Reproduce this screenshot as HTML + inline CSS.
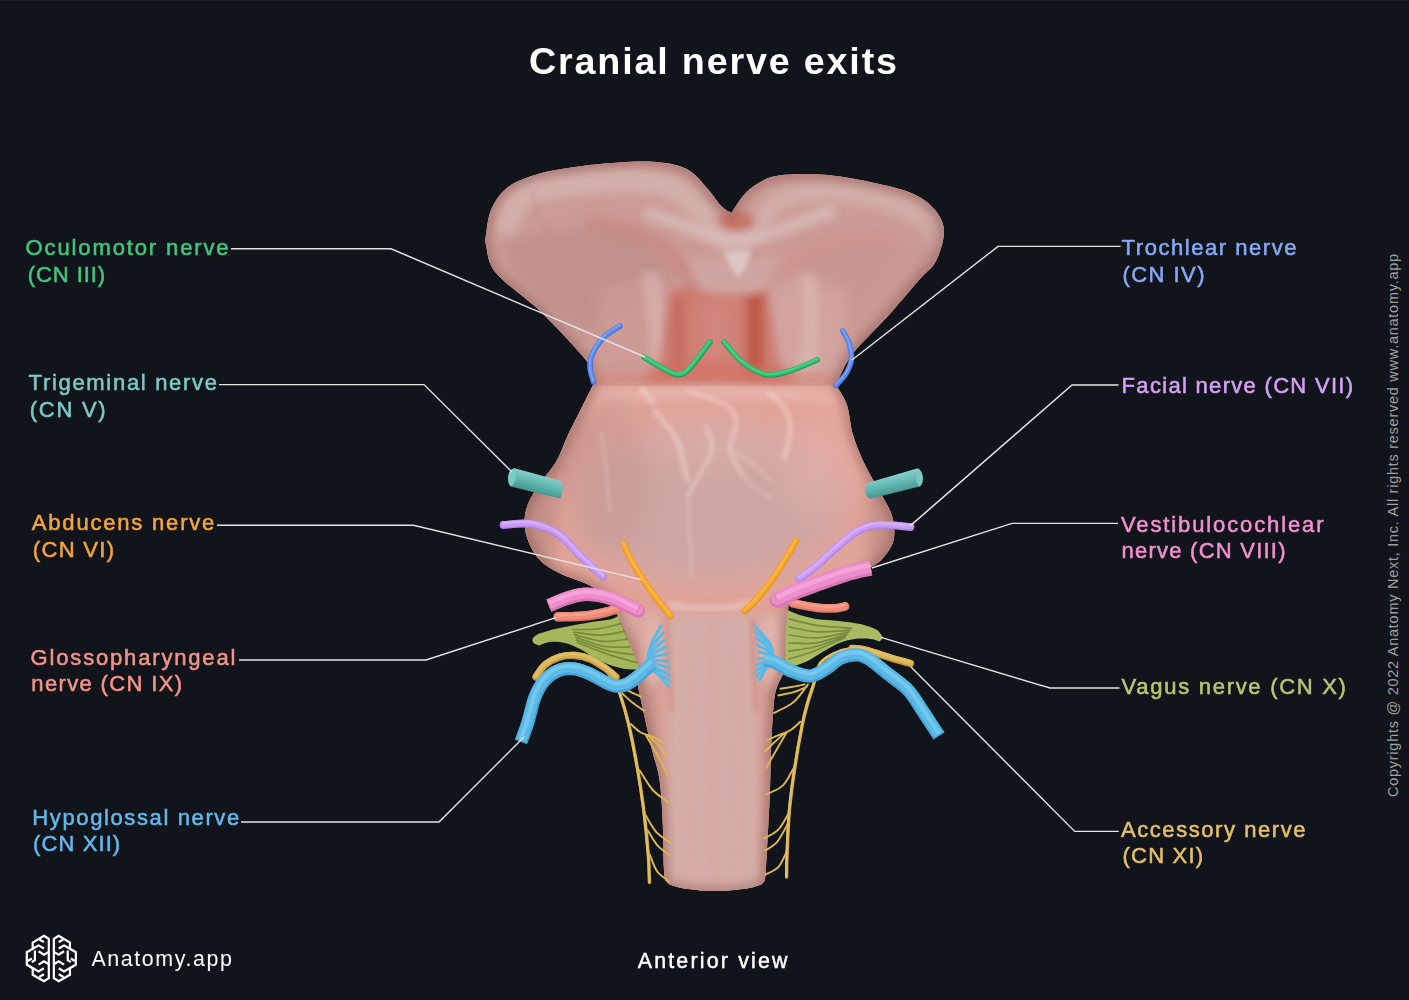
<!DOCTYPE html>
<html lang="en">
<head>
<meta charset="utf-8">
<title>Cranial nerve exits</title>
<style>
html,body{margin:0;padding:0;background:#11141a;}
body{width:1409px;height:1000px;overflow:hidden;font-family:"Liberation Sans",sans-serif;}
svg{display:block;position:absolute;left:0;top:0;}
text{font-family:"Liberation Sans",sans-serif;}
.lbl{font-size:22px;stroke-width:0.55px;paint-order:stroke;}
.ln{fill:none;stroke:#e4e4e4;stroke-width:1.4;}
</style>
</head>
<body>
<svg width="1409" height="1000" viewBox="0 0 1409 1000">
<defs>
  <clipPath id="bodyclip"><path d="M731.5,213.0 C733.4,210.2 738.8,200.8 743.0,196.0 C747.2,191.2 751.0,187.4 757.0,184.0 C763.0,180.6 767.7,177.0 779.0,175.5 C790.3,174.0 808.5,173.4 825.0,174.8 C841.5,176.2 863.2,180.5 878.0,183.7 C892.8,186.9 904.1,189.6 913.6,194.0 C923.1,198.4 929.9,203.8 935.0,210.0 C940.1,216.2 943.8,222.5 944.0,231.0 C944.2,239.5 940.2,252.8 936.0,261.0 C931.8,269.2 927.0,270.8 919.0,280.0 C911.0,289.2 898.8,304.0 888.0,316.0 C877.2,328.0 862.0,342.0 854.0,352.0 C846.0,362.0 842.9,370.3 840.0,376.0 C837.1,381.7 837.2,384.3 836.6,386.0 C838.3,389.2 844.3,396.8 847.0,405.0 C849.7,413.2 850.0,425.0 853.0,435.0 C856.0,445.0 860.5,455.5 865.0,465.0 C869.5,474.5 875.5,483.5 880.0,492.0 C884.5,500.5 889.7,508.0 892.0,516.0 C894.3,524.0 895.1,533.0 893.6,540.0 C892.1,547.0 886.8,553.5 883.0,558.0 C879.2,562.5 877.3,563.3 871.0,567.0 C864.7,570.7 854.3,575.8 845.0,580.0 C835.7,584.2 823.8,588.7 815.0,592.0 C806.2,595.3 796.5,596.7 792.0,600.0 C787.5,603.3 788.8,605.3 788.0,612.0 C787.2,618.7 787.3,631.0 787.0,640.0 C786.7,649.0 787.8,657.7 786.0,666.0 C784.2,674.3 778.2,682.0 776.0,690.0 C773.8,698.0 773.8,704.0 773.0,714.0 C772.2,724.0 771.5,737.3 771.0,750.0 C770.5,762.7 770.4,777.8 770.0,790.0 C769.6,802.2 769.1,810.2 768.4,823.0 C767.7,835.8 766.6,857.5 766.0,867.0 C765.4,876.5 765.2,877.8 765.0,880.0 C764.2,880.8 763.7,883.5 760.0,885.0 C756.3,886.5 750.6,888.0 743.0,889.0 C735.4,890.0 723.7,891.0 714.5,891.0 C705.3,891.0 695.2,890.0 688.0,889.0 C680.8,888.0 674.8,886.5 671.0,885.0 C667.2,883.5 666.0,880.8 665.0,880.0 C664.8,877.8 664.2,876.5 663.8,867.0 C663.4,857.5 663.4,837.7 662.7,823.0 C662.0,808.3 661.2,791.2 659.4,779.0 C657.6,766.8 654.6,760.8 652.0,750.0 C649.4,739.2 646.3,724.7 644.0,714.0 C641.7,703.3 639.3,693.3 638.0,686.0 C636.7,678.7 637.7,677.7 636.0,670.0 C634.3,662.3 631.0,649.0 628.0,640.0 C625.0,631.0 621.0,622.7 618.0,616.0 C615.0,609.3 614.8,605.2 610.0,600.0 C605.2,594.8 597.5,589.5 589.0,585.0 C580.5,580.5 567.5,577.5 559.0,573.0 C550.5,568.5 543.5,564.5 538.0,558.0 C532.5,551.5 528.0,542.0 526.0,534.0 C524.0,526.0 524.0,518.0 526.0,510.0 C528.0,502.0 533.0,494.0 538.0,486.0 C543.0,478.0 551.0,470.5 556.0,462.0 C561.0,453.5 563.5,444.5 568.0,435.0 C572.5,425.5 578.8,413.5 583.0,405.0 C587.2,396.5 591.8,387.5 593.5,384.0 C592.9,382.0 591.4,376.2 590.0,372.0 C588.6,367.8 593.0,368.8 585.0,359.0 C577.0,349.2 556.8,327.3 542.0,313.0 C527.2,298.7 505.3,284.3 496.0,273.0 C486.7,261.7 487.7,251.3 486.0,245.0 C484.3,238.7 485.2,240.8 486.0,235.0 C486.8,229.2 487.8,217.7 491.0,210.0 C494.2,202.3 499.0,194.6 505.5,189.0 C512.0,183.4 521.1,179.8 530.0,176.6 C538.9,173.3 547.0,171.6 558.7,169.5 C570.4,167.4 586.5,165.3 600.0,164.0 C613.5,162.7 628.5,161.5 640.0,161.4 C651.5,161.3 660.4,161.9 668.7,163.5 C677.0,165.1 683.5,166.8 690.0,171.0 C696.5,175.2 702.5,183.0 707.8,189.0 C713.1,195.0 718.0,202.8 722.0,206.8 C726.0,210.8 729.9,212.0 731.5,213.0 Z"/></clipPath>
  <filter id="b4" filterUnits="userSpaceOnUse" x="400" y="100" width="620" height="850"><feGaussianBlur stdDeviation="4"/></filter>
  <filter id="b8" filterUnits="userSpaceOnUse" x="400" y="100" width="620" height="850"><feGaussianBlur stdDeviation="8"/></filter>
  <filter id="b14" filterUnits="userSpaceOnUse" x="400" y="100" width="620" height="850"><feGaussianBlur stdDeviation="14"/></filter>
  <filter id="b2" filterUnits="userSpaceOnUse" x="400" y="100" width="620" height="850"><feGaussianBlur stdDeviation="2"/></filter>
</defs>
<rect width="1409" height="1000" fill="#11141a"/>
<rect width="1409" height="1.2" fill="#1d2026"/>

<!-- BRAINSTEM BODY -->
<g id="body">
  <path d="M731.5,213.0 C733.4,210.2 738.8,200.8 743.0,196.0 C747.2,191.2 751.0,187.4 757.0,184.0 C763.0,180.6 767.7,177.0 779.0,175.5 C790.3,174.0 808.5,173.4 825.0,174.8 C841.5,176.2 863.2,180.5 878.0,183.7 C892.8,186.9 904.1,189.6 913.6,194.0 C923.1,198.4 929.9,203.8 935.0,210.0 C940.1,216.2 943.8,222.5 944.0,231.0 C944.2,239.5 940.2,252.8 936.0,261.0 C931.8,269.2 927.0,270.8 919.0,280.0 C911.0,289.2 898.8,304.0 888.0,316.0 C877.2,328.0 862.0,342.0 854.0,352.0 C846.0,362.0 842.9,370.3 840.0,376.0 C837.1,381.7 837.2,384.3 836.6,386.0 C838.3,389.2 844.3,396.8 847.0,405.0 C849.7,413.2 850.0,425.0 853.0,435.0 C856.0,445.0 860.5,455.5 865.0,465.0 C869.5,474.5 875.5,483.5 880.0,492.0 C884.5,500.5 889.7,508.0 892.0,516.0 C894.3,524.0 895.1,533.0 893.6,540.0 C892.1,547.0 886.8,553.5 883.0,558.0 C879.2,562.5 877.3,563.3 871.0,567.0 C864.7,570.7 854.3,575.8 845.0,580.0 C835.7,584.2 823.8,588.7 815.0,592.0 C806.2,595.3 796.5,596.7 792.0,600.0 C787.5,603.3 788.8,605.3 788.0,612.0 C787.2,618.7 787.3,631.0 787.0,640.0 C786.7,649.0 787.8,657.7 786.0,666.0 C784.2,674.3 778.2,682.0 776.0,690.0 C773.8,698.0 773.8,704.0 773.0,714.0 C772.2,724.0 771.5,737.3 771.0,750.0 C770.5,762.7 770.4,777.8 770.0,790.0 C769.6,802.2 769.1,810.2 768.4,823.0 C767.7,835.8 766.6,857.5 766.0,867.0 C765.4,876.5 765.2,877.8 765.0,880.0 C764.2,880.8 763.7,883.5 760.0,885.0 C756.3,886.5 750.6,888.0 743.0,889.0 C735.4,890.0 723.7,891.0 714.5,891.0 C705.3,891.0 695.2,890.0 688.0,889.0 C680.8,888.0 674.8,886.5 671.0,885.0 C667.2,883.5 666.0,880.8 665.0,880.0 C664.8,877.8 664.2,876.5 663.8,867.0 C663.4,857.5 663.4,837.7 662.7,823.0 C662.0,808.3 661.2,791.2 659.4,779.0 C657.6,766.8 654.6,760.8 652.0,750.0 C649.4,739.2 646.3,724.7 644.0,714.0 C641.7,703.3 639.3,693.3 638.0,686.0 C636.7,678.7 637.7,677.7 636.0,670.0 C634.3,662.3 631.0,649.0 628.0,640.0 C625.0,631.0 621.0,622.7 618.0,616.0 C615.0,609.3 614.8,605.2 610.0,600.0 C605.2,594.8 597.5,589.5 589.0,585.0 C580.5,580.5 567.5,577.5 559.0,573.0 C550.5,568.5 543.5,564.5 538.0,558.0 C532.5,551.5 528.0,542.0 526.0,534.0 C524.0,526.0 524.0,518.0 526.0,510.0 C528.0,502.0 533.0,494.0 538.0,486.0 C543.0,478.0 551.0,470.5 556.0,462.0 C561.0,453.5 563.5,444.5 568.0,435.0 C572.5,425.5 578.8,413.5 583.0,405.0 C587.2,396.5 591.8,387.5 593.5,384.0 C592.9,382.0 591.4,376.2 590.0,372.0 C588.6,367.8 593.0,368.8 585.0,359.0 C577.0,349.2 556.8,327.3 542.0,313.0 C527.2,298.7 505.3,284.3 496.0,273.0 C486.7,261.7 487.7,251.3 486.0,245.0 C484.3,238.7 485.2,240.8 486.0,235.0 C486.8,229.2 487.8,217.7 491.0,210.0 C494.2,202.3 499.0,194.6 505.5,189.0 C512.0,183.4 521.1,179.8 530.0,176.6 C538.9,173.3 547.0,171.6 558.7,169.5 C570.4,167.4 586.5,165.3 600.0,164.0 C613.5,162.7 628.5,161.5 640.0,161.4 C651.5,161.3 660.4,161.9 668.7,163.5 C677.0,165.1 683.5,166.8 690.0,171.0 C696.5,175.2 702.5,183.0 707.8,189.0 C713.1,195.0 718.0,202.8 722.0,206.8 C726.0,210.8 729.9,212.0 731.5,213.0 Z" fill="#d8a69d"/>
  <g clip-path="url(#bodyclip)">

    <!-- general tone variation -->
    <rect x="470" y="150" width="490" height="236" fill="#cd9c97"/>
    <!-- ===== MIDBRAIN ===== -->
    <g fill="none" stroke-linecap="round" stroke-linejoin="round">
      <!-- rim highlights -->
      <path d="M508,226 C510,204 522,194 542,189 C582,182 630,178 662,184 C686,190 698,210 714,230 C722,238 730,242 738,242" stroke="#d3b0ac" stroke-width="24" filter="url(#b4)" opacity="0.95"/>
      <path d="M738,242 C748,242 756,232 766,214 C776,198 792,192 830,192 C870,194 903,204 922,218 C930,224 933,232 934,240" stroke="#d1aeaa" stroke-width="20" filter="url(#b4)" opacity="0.9"/>
      <!-- central light band under the notch -->
      <path d="M650,214 C680,222 705,238 737,240 C770,238 795,222 830,212" stroke="#d8bbb8" stroke-width="13" filter="url(#b4)" opacity="0.85"/>
      <!-- under-rim shadows -->
      <path d="M590,226 C628,230 660,244 682,264 C692,274 696,284 698,294" stroke="#c57f74" stroke-width="12" filter="url(#b8)" opacity="0.8"/>
      <path d="M772,294 C774,280 784,266 804,254 C830,242 860,238 890,240" stroke="#c98a80" stroke-width="10" filter="url(#b8)" opacity="0.55"/>
      <!-- crease inside the left rim -->
      <path d="M533,192 C534,210 542,228 556,240" stroke="#c3918a" stroke-width="3" filter="url(#b2)" opacity="0.6"/>
    </g>
    <path d="M498,244 C530,232 580,226 620,234 C650,244 668,262 672,284 C650,300 620,318 590,336 C560,320 520,290 498,244 Z" fill="#b88a85" filter="url(#b8)" opacity="0.6"/>
    <path d="M800,262 C830,246 870,242 915,246 C905,270 885,295 860,318 C835,310 812,292 800,262 Z" fill="#c08e8b" filter="url(#b8)" opacity="0.35"/>
    <!-- notch inner red -->
    <ellipse cx="736" cy="221" rx="18" ry="9" fill="#c46e5f" filter="url(#b4)" opacity="0.9"/>
    <!-- peduncles (lighter) -->
    <path d="M596,290 C620,280 650,276 668,282 L662,376 L600,376 Z" fill="#cf9b96" filter="url(#b8)" opacity="0.7"/>
    <path d="M768,284 C795,276 830,280 850,292 L838,376 L776,376 Z" fill="#d4a7a3" filter="url(#b8)" opacity="0.7"/>
    <path d="M640,272 C648,300 650,340 652,370 L668,370 C665,340 663,300 660,272 Z" fill="#e0c0bc" filter="url(#b4)" opacity="0.5"/>
    <path d="M800,274 C805,300 803,340 798,370 L816,370 C820,340 820,300 816,274 Z" fill="#e0c0bc" filter="url(#b4)" opacity="0.5"/>
    <!-- interpeduncular fossa (red) -->
    <path d="M672,288 L766,288 L782,380 L656,380 Z" fill="#cf7e73" filter="url(#b4)"/>
    <rect x="672" y="296" width="12" height="80" fill="#c4695d" filter="url(#b4)" opacity="0.8"/>
    <rect x="747" y="294" width="16" height="84" fill="#bb5844" filter="url(#b4)" opacity="0.95"/>
    <rect x="700" y="298" width="34" height="64" fill="#d58c82" filter="url(#b8)" opacity="0.6"/>
    <!-- tuber cinereum funnel -->
    <path d="M684,254 C710,262 760,262 784,254 L764,290 C750,296 714,296 700,290 Z" fill="#cfa6a3" filter="url(#b4)" opacity="0.9"/>
    <path d="M724,252 C730,250 744,250 751,252 C749,262 744,272 738.5,277 C733,272 727,262 724,252 Z" fill="#dcc4c2" filter="url(#b2)"/>
    <!-- junction groove (soft) -->
    <path d="M594,374 C650,370 780,370 836,376 L838,386 C780,382 650,382 592,386 Z" fill="#d98474" filter="url(#b4)" opacity="0.55"/>
    <path d="M650,366 C690,362 750,362 790,368 L794,384 C750,380 690,380 646,384 Z" fill="#d46f60" filter="url(#b4)" opacity="0.6"/>
    <!-- lobe outer edges -->
    <path d="M944,231 C940,255 925,280 900,310 C880,335 855,360 838,384 L852,352 C880,318 905,288 920,262 C930,244 932,228 926,212 Z" fill="#b8857e" filter="url(#b8)" opacity="0.5"/>
    <!-- ===== PONS ===== -->
    <rect x="500" y="386" width="420" height="240" fill="#e3a59b"/>
    <path d="M596,390 C650,386 780,386 836,392 L842,404 C780,398 650,398 590,404 Z" fill="#ecc0b8" filter="url(#b4)" opacity="0.55"/>
    <ellipse cx="712" cy="505" rx="128" ry="78" fill="#cda6a4" filter="url(#b14)" opacity="0.95"/>
    <ellipse cx="705" cy="445" rx="85" ry="26" fill="#deb0aa" filter="url(#b14)" opacity="0.5"/>
    <ellipse cx="532" cy="520" rx="24" ry="66" fill="#b98780" filter="url(#b8)" opacity="0.75"/>
    <ellipse cx="890" cy="525" rx="22" ry="66" fill="#b98780" filter="url(#b8)" opacity="0.75"/>
    <path d="M572,420 C560,445 548,465 536,486 L560,500 C570,470 585,445 596,420 Z" fill="#b8857d" filter="url(#b8)" opacity="0.55"/>
    <path d="M560,574 C600,592 640,606 680,612 C705,616 730,614 750,608 C790,596 840,584 880,562 L880,600 L560,612 Z" fill="#cf8a80" filter="url(#b8)" opacity="0.55"/>
    <ellipse cx="606" cy="475" rx="42" ry="80" fill="#c69892" filter="url(#b14)" opacity="0.6"/>
    <ellipse cx="815" cy="468" rx="36" ry="46" fill="#e4b4ae" filter="url(#b14)" opacity="0.55"/>
    <!-- pons marbling -->
    <g fill="none" stroke="#f1d6d1" stroke-linecap="round" stroke-linejoin="round" filter="url(#b2)" opacity="0.55">
      <path d="M655,411 C659,416 670,428 676,438 C681,446 681,452 682,459 C684,468 686,474 688,480" stroke-width="5"/>
      <path d="M688,390 C696,393 704,396 712,399 C720,402 726,404 730,408 C735,414 737,420 736,426 C734,436 729,442 730,450 C732,460 738,466 742,474" stroke-width="4"/>
      <path d="M706,426 C710,434 713,442 712,450 C710,460 704,466 700,474 C696,482 691,489 688,495" stroke-width="4"/>
      <path d="M769,393 C775,398 781,402 784,408 C789,416 791,424 790,432 C789,442 786,450 784,459" stroke-width="5"/>
      <path d="M642,390 C646,393 650,397 652,402" stroke-width="6"/>
      <path d="M601,432 C604,448 606,465 607,480 C608,492 609,502 610,512" stroke-width="3" opacity="0.6"/>
      <path d="M742,474 C750,486 760,492 772,498 M730,450 C745,456 760,470 770,480" stroke-width="3" opacity="0.7"/>
      <path d="M688,495 C690,510 686,525 690,540 C693,552 690,566 692,578" stroke-width="3" opacity="0.6"/>
    </g>
    <!-- pons lower lip highlight -->
    <path d="M668,600 C690,606 735,606 752,598 L750,608 C735,614 690,614 670,610 Z" fill="#e8c3bc" filter="url(#b2)" opacity="0.7"/>
    <!-- ===== MEDULLA ===== -->
    <rect x="600" y="612" width="220" height="290" fill="#dba79e"/>
    <path d="M668,616 L752,616 C752,660 756,700 758,740 L760,892 L668,892 L670,740 C670,700 668,660 668,616 Z" fill="#d5afab" filter="url(#b4)" opacity="0.9"/>
    <rect x="634" y="640" width="22" height="260" fill="#bd867d" filter="url(#b8)" opacity="0.7"/>
    <rect x="768" y="640" width="20" height="260" fill="#bd867d" filter="url(#b8)" opacity="0.7"/>
    <path d="M713,620 C715,700 712,800 714,888" fill="none" stroke="#d79a90" stroke-width="4" filter="url(#b4)" opacity="0.55"/>
    <path d="M690,640 C692,720 690,800 692,880 M738,640 C737,720 739,800 737,880" fill="none" stroke="#dba59c" stroke-width="4" filter="url(#b4)" opacity="0.5"/>
    <!-- olives -->
    <ellipse cx="652" cy="652" rx="12" ry="36" fill="#e3b5ad" filter="url(#b4)" opacity="0.8"/>
    <ellipse cx="770" cy="652" rx="12" ry="36" fill="#e3b5ad" filter="url(#b4)" opacity="0.8"/>
    <path d="M667,618 C668,650 669,680 672,712 M753,618 C753,650 754,680 756,712" fill="none" stroke="#cc8579" stroke-width="4" filter="url(#b2)" opacity="0.6"/>
    <!-- silhouette edge darkening -->
    <path d="M731.5,213.0 C733.4,210.2 738.8,200.8 743.0,196.0 C747.2,191.2 751.0,187.4 757.0,184.0 C763.0,180.6 767.7,177.0 779.0,175.5 C790.3,174.0 808.5,173.4 825.0,174.8 C841.5,176.2 863.2,180.5 878.0,183.7 C892.8,186.9 904.1,189.6 913.6,194.0 C923.1,198.4 929.9,203.8 935.0,210.0 C940.1,216.2 943.8,222.5 944.0,231.0 C944.2,239.5 940.2,252.8 936.0,261.0 C931.8,269.2 927.0,270.8 919.0,280.0 C911.0,289.2 898.8,304.0 888.0,316.0 C877.2,328.0 862.0,342.0 854.0,352.0 C846.0,362.0 842.9,370.3 840.0,376.0 C837.1,381.7 837.2,384.3 836.6,386.0 C838.3,389.2 844.3,396.8 847.0,405.0 C849.7,413.2 850.0,425.0 853.0,435.0 C856.0,445.0 860.5,455.5 865.0,465.0 C869.5,474.5 875.5,483.5 880.0,492.0 C884.5,500.5 889.7,508.0 892.0,516.0 C894.3,524.0 895.1,533.0 893.6,540.0 C892.1,547.0 886.8,553.5 883.0,558.0 C879.2,562.5 877.3,563.3 871.0,567.0 C864.7,570.7 854.3,575.8 845.0,580.0 C835.7,584.2 823.8,588.7 815.0,592.0 C806.2,595.3 796.5,596.7 792.0,600.0 C787.5,603.3 788.8,605.3 788.0,612.0 C787.2,618.7 787.3,631.0 787.0,640.0 C786.7,649.0 787.8,657.7 786.0,666.0 C784.2,674.3 778.2,682.0 776.0,690.0 C773.8,698.0 773.8,704.0 773.0,714.0 C772.2,724.0 771.5,737.3 771.0,750.0 C770.5,762.7 770.4,777.8 770.0,790.0 C769.6,802.2 769.1,810.2 768.4,823.0 C767.7,835.8 766.6,857.5 766.0,867.0 C765.4,876.5 765.2,877.8 765.0,880.0 C764.2,880.8 763.7,883.5 760.0,885.0 C756.3,886.5 750.6,888.0 743.0,889.0 C735.4,890.0 723.7,891.0 714.5,891.0 C705.3,891.0 695.2,890.0 688.0,889.0 C680.8,888.0 674.8,886.5 671.0,885.0 C667.2,883.5 666.0,880.8 665.0,880.0 C664.8,877.8 664.2,876.5 663.8,867.0 C663.4,857.5 663.4,837.7 662.7,823.0 C662.0,808.3 661.2,791.2 659.4,779.0 C657.6,766.8 654.6,760.8 652.0,750.0 C649.4,739.2 646.3,724.7 644.0,714.0 C641.7,703.3 639.3,693.3 638.0,686.0 C636.7,678.7 637.7,677.7 636.0,670.0 C634.3,662.3 631.0,649.0 628.0,640.0 C625.0,631.0 621.0,622.7 618.0,616.0 C615.0,609.3 614.8,605.2 610.0,600.0 C605.2,594.8 597.5,589.5 589.0,585.0 C580.5,580.5 567.5,577.5 559.0,573.0 C550.5,568.5 543.5,564.5 538.0,558.0 C532.5,551.5 528.0,542.0 526.0,534.0 C524.0,526.0 524.0,518.0 526.0,510.0 C528.0,502.0 533.0,494.0 538.0,486.0 C543.0,478.0 551.0,470.5 556.0,462.0 C561.0,453.5 563.5,444.5 568.0,435.0 C572.5,425.5 578.8,413.5 583.0,405.0 C587.2,396.5 591.8,387.5 593.5,384.0 C592.9,382.0 591.4,376.2 590.0,372.0 C588.6,367.8 593.0,368.8 585.0,359.0 C577.0,349.2 556.8,327.3 542.0,313.0 C527.2,298.7 505.3,284.3 496.0,273.0 C486.7,261.7 487.7,251.3 486.0,245.0 C484.3,238.7 485.2,240.8 486.0,235.0 C486.8,229.2 487.8,217.7 491.0,210.0 C494.2,202.3 499.0,194.6 505.5,189.0 C512.0,183.4 521.1,179.8 530.0,176.6 C538.9,173.3 547.0,171.6 558.7,169.5 C570.4,167.4 586.5,165.3 600.0,164.0 C613.5,162.7 628.5,161.5 640.0,161.4 C651.5,161.3 660.4,161.9 668.7,163.5 C677.0,165.1 683.5,166.8 690.0,171.0 C696.5,175.2 702.5,183.0 707.8,189.0 C713.1,195.0 718.0,202.8 722.0,206.8 C726.0,210.8 729.9,212.0 731.5,213.0 Z" fill="none" stroke="#7d4d48" stroke-width="10" filter="url(#b4)" opacity="0.4"/>
  </g>
</g>

<!-- NERVES -->
<g id="nerves" fill="none" stroke-linecap="round" stroke-linejoin="round">

<path d="M622.0,693.2 C623.8,694.9 629.3,700.2 633.0,703.1 C636.7,706.0 642.2,709.5 644.0,710.8 M624.2,688.8 C625.7,689.5 630.3,691.9 633.0,693.2 C635.8,694.5 639.4,696.0 640.7,696.5 M630.8,724.0 C632.3,725.3 636.9,729.9 639.6,731.7 C642.4,733.6 646.0,734.5 647.3,735.0 M647.3,735.0 C648.8,735.6 653.6,737.0 656.1,738.3 C658.7,739.6 661.6,742.0 662.7,742.7 M647.3,735.0 C649.2,736.7 655.4,741.6 658.3,744.9 C661.3,748.2 663.8,753.2 664.9,754.8 M645.1,733.9 C647.1,737.4 653.6,748.0 657.2,754.8 C660.9,761.6 665.5,771.3 667.1,774.6 M639.6,770.2 C641.8,773.5 648.1,784.7 652.8,790.0 C657.6,795.4 665.7,800.1 668.2,802.2 M645.1,814.3 C647.0,817.2 651.9,827.1 656.1,831.9 C660.3,836.6 668.0,841.0 670.4,842.9 M647.3,829.7 C649.0,832.2 653.6,840.9 657.2,845.1 C660.9,849.3 667.3,853.3 669.3,855.0 M649.5,853.9 C650.8,856.8 653.9,866.9 657.2,871.5 C660.5,876.1 667.3,879.7 669.3,881.4 M806.9,686.6 C804.7,687.5 798.5,690.6 793.7,692.1 C788.9,693.6 780.8,694.9 778.3,695.4 M804.7,684.4 C802.9,684.8 797.7,685.9 793.7,686.6 C789.6,687.3 782.7,688.4 780.5,688.8 M808.0,684.4 C805.6,687.3 799.4,697.2 793.7,702.0 C788.0,706.8 777.2,711.2 773.9,713.0 M800.3,721.8 C798.8,723.1 794.1,727.7 791.5,729.5 C788.9,731.4 786.0,732.3 784.9,732.8 M784.9,732.8 C783.4,733.4 779.0,734.8 776.1,736.1 C773.1,737.4 768.7,739.8 767.3,740.5 M784.9,732.8 C783.0,734.5 777.2,739.6 773.9,742.7 C770.6,745.8 766.5,750.1 765.1,751.5 M787.1,731.7 C785.2,734.8 779.6,744.4 776.1,750.4 C772.6,756.5 767.8,765.1 766.2,768.0 M793.7,768.0 C791.8,771.0 787.3,781.2 782.7,785.6 C778.1,790.0 768.9,793.0 766.2,794.4 M789.3,812.1 C787.4,815.0 782.5,825.3 778.3,829.7 C774.1,834.1 766.4,837.0 764.0,838.5 M788.2,823.1 C786.3,826.2 781.0,837.2 777.2,841.8 C773.3,846.4 767.1,849.1 765.1,850.6 M786.6,851.7 C785.2,854.2 781.9,863.2 778.3,867.1 C774.7,870.9 767.3,873.5 765.1,874.8" stroke="#dcb752" stroke-width="1.9"/>
<path d="M605.0,668.0 C606.5,670.3 611.5,677.7 614.0,682.0 C616.5,686.3 617.6,687.0 620.0,694.0 C622.4,701.0 625.7,711.7 628.6,724.0 C631.5,736.3 634.8,753.3 637.4,768.0 C640.0,782.7 642.2,797.3 644.0,812.0 C645.8,826.7 647.5,844.2 648.4,856.0 C649.3,867.8 649.3,878.1 649.5,882.5" stroke="#c09c44" stroke-width="3.4" stroke-linecap="round"/><path d="M605.0,668.0 C606.5,670.3 611.5,677.7 614.0,682.0 C616.5,686.3 617.6,687.0 620.0,694.0 C622.4,701.0 625.7,711.7 628.6,724.0 C631.5,736.3 634.8,753.3 637.4,768.0 C640.0,782.7 642.2,797.3 644.0,812.0 C645.8,826.7 647.5,844.2 648.4,856.0 C649.3,867.8 649.3,878.1 649.5,882.5" stroke="#dcb858" stroke-width="2.7" stroke-linecap="round" transform="translate(-0.2,-0.34)"/><path d="M605.0,668.0 C606.5,670.3 611.5,677.7 614.0,682.0 C616.5,686.3 617.6,687.0 620.0,694.0 C622.4,701.0 625.7,711.7 628.6,724.0 C631.5,736.3 634.8,753.3 637.4,768.0 C640.0,782.7 642.2,797.3 644.0,812.0 C645.8,826.7 647.5,844.2 648.4,856.0 C649.3,867.8 649.3,878.1 649.5,882.5" stroke="#e6c875" stroke-width="1.0" stroke-linecap="round" transform="translate(-0.3,-0.68)" opacity="0.7"/>
<path d="M865.5,650.0 C862.9,649.8 855.3,648.3 850.0,649.0 C844.7,649.7 838.6,651.5 833.6,654.0 C828.6,656.5 823.4,658.7 820.0,664.0 C816.6,669.3 815.3,679.5 813.3,685.8 C811.3,692.1 809.8,695.6 808.0,702.0 C806.2,708.4 804.7,713.0 802.5,724.0 C800.3,735.0 797.0,753.3 794.8,768.0 C792.6,782.7 790.6,797.3 789.3,812.0 C788.0,826.7 787.5,845.2 787.0,856.0 C786.5,866.8 786.7,873.5 786.6,877.0" stroke="#c09c44" stroke-width="3.4" stroke-linecap="round"/><path d="M865.5,650.0 C862.9,649.8 855.3,648.3 850.0,649.0 C844.7,649.7 838.6,651.5 833.6,654.0 C828.6,656.5 823.4,658.7 820.0,664.0 C816.6,669.3 815.3,679.5 813.3,685.8 C811.3,692.1 809.8,695.6 808.0,702.0 C806.2,708.4 804.7,713.0 802.5,724.0 C800.3,735.0 797.0,753.3 794.8,768.0 C792.6,782.7 790.6,797.3 789.3,812.0 C788.0,826.7 787.5,845.2 787.0,856.0 C786.5,866.8 786.7,873.5 786.6,877.0" stroke="#dcb858" stroke-width="2.7" stroke-linecap="round" transform="translate(-0.2,-0.34)"/><path d="M865.5,650.0 C862.9,649.8 855.3,648.3 850.0,649.0 C844.7,649.7 838.6,651.5 833.6,654.0 C828.6,656.5 823.4,658.7 820.0,664.0 C816.6,669.3 815.3,679.5 813.3,685.8 C811.3,692.1 809.8,695.6 808.0,702.0 C806.2,708.4 804.7,713.0 802.5,724.0 C800.3,735.0 797.0,753.3 794.8,768.0 C792.6,782.7 790.6,797.3 789.3,812.0 C788.0,826.7 787.5,845.2 787.0,856.0 C786.5,866.8 786.7,873.5 786.6,877.0" stroke="#e6c875" stroke-width="1.0" stroke-linecap="round" transform="translate(-0.3,-0.68)" opacity="0.7"/>
<path d="M536.0,677.0 C537.5,675.0 541.0,668.3 545.0,665.0 C549.0,661.7 555.0,658.6 560.0,657.0 C565.0,655.4 570.0,655.2 575.0,655.5 C580.0,655.8 585.0,656.9 590.0,659.0 C595.0,661.1 600.7,665.0 605.0,668.0 C609.3,671.0 614.2,675.5 616.0,677.0" stroke="#b8933c" stroke-width="7.4" stroke-linecap="round"/><path d="M536.0,677.0 C537.5,675.0 541.0,668.3 545.0,665.0 C549.0,661.7 555.0,658.6 560.0,657.0 C565.0,655.4 570.0,655.2 575.0,655.5 C580.0,655.8 585.0,656.9 590.0,659.0 C595.0,661.1 600.7,665.0 605.0,668.0 C609.3,671.0 614.2,675.5 616.0,677.0" stroke="#d9b354" stroke-width="5.9" stroke-linecap="round" transform="translate(-0.2,-0.74)"/><path d="M536.0,677.0 C537.5,675.0 541.0,668.3 545.0,665.0 C549.0,661.7 555.0,658.6 560.0,657.0 C565.0,655.4 570.0,655.2 575.0,655.5 C580.0,655.8 585.0,656.9 590.0,659.0 C595.0,661.1 600.7,665.0 605.0,668.0 C609.3,671.0 614.2,675.5 616.0,677.0" stroke="#e6c878" stroke-width="2.2" stroke-linecap="round" transform="translate(-0.3,-1.48)" opacity="0.7"/>
<path d="M910.5,663.5 C908.1,662.8 900.8,660.9 896.0,659.5 C891.2,658.1 886.6,656.6 881.5,655.0 C876.4,653.4 870.4,651.1 865.5,650.0 C860.6,648.9 854.2,648.8 852.0,648.5" stroke="#b8933c" stroke-width="7.4" stroke-linecap="round"/><path d="M910.5,663.5 C908.1,662.8 900.8,660.9 896.0,659.5 C891.2,658.1 886.6,656.6 881.5,655.0 C876.4,653.4 870.4,651.1 865.5,650.0 C860.6,648.9 854.2,648.8 852.0,648.5" stroke="#d9b354" stroke-width="5.9" stroke-linecap="round" transform="translate(-0.2,-0.74)"/><path d="M910.5,663.5 C908.1,662.8 900.8,660.9 896.0,659.5 C891.2,658.1 886.6,656.6 881.5,655.0 C876.4,653.4 870.4,651.1 865.5,650.0 C860.6,648.9 854.2,648.8 852.0,648.5" stroke="#e6c878" stroke-width="2.2" stroke-linecap="round" transform="translate(-0.3,-1.48)" opacity="0.7"/>
<path d="M538.0,634.0 C540.8,633.2 548.8,630.5 555.0,629.0 C561.2,627.5 568.3,626.2 575.0,625.0 C581.7,623.8 589.2,622.4 595.0,621.5 C600.8,620.6 606.2,620.4 610.0,619.5 C613.8,618.6 616.7,616.6 618.0,616.0 C619.2,618.8 622.7,627.3 625.0,633.0 C627.3,638.7 629.7,644.0 632.0,650.0 C634.3,656.0 637.8,665.8 639.0,669.0 C636.7,669.4 629.8,669.8 625.0,669.0 C620.2,668.2 615.0,666.8 610.0,665.0 C605.0,663.2 600.0,660.7 595.0,658.0 C590.0,655.3 585.0,651.5 580.0,649.0 C575.0,646.5 570.0,644.2 565.0,643.0 C560.0,641.8 554.3,641.6 550.0,642.0 C545.7,642.4 540.8,644.9 539.0,645.5 C538.1,645.1 534.5,644.2 533.5,643.0 C532.5,641.8 532.2,639.5 533.0,638.0 C533.8,636.5 537.2,634.7 538.0,634.0 Z" fill="#a4b75a" stroke="none"/>
<path d="M787.8,610.2 C790.1,611.1 796.6,614.0 801.6,615.5 C806.6,617.0 811.4,618.4 817.6,619.3 C823.8,620.2 831.8,620.1 838.9,620.9 C846.0,621.7 853.8,622.6 860.0,624.0 C866.2,625.4 872.6,627.8 876.0,629.4 C879.4,631.0 879.7,632.9 880.4,633.6 C880.8,634.3 882.7,636.7 882.5,638.0 C882.3,639.3 879.8,641.0 879.3,641.6 C877.9,641.2 874.9,639.4 870.8,639.0 C866.7,638.6 860.1,638.3 854.8,639.0 C849.5,639.7 844.2,641.1 838.9,643.2 C833.6,645.3 828.2,648.7 822.9,651.7 C817.6,654.7 812.3,658.8 807.0,661.3 C801.7,663.8 794.5,666.2 791.0,666.7 C787.5,667.2 786.8,664.9 786.0,664.5 C785.9,660.4 785.2,649.0 785.5,640.0 C785.8,631.0 787.4,615.2 787.8,610.2 Z" fill="#a9bb62" stroke="none"/>
<path d="M572.6,629.5 C576.9,629.4 590.7,629.8 598.7,628.8 C606.8,627.8 617.2,624.5 620.8,623.6 M573.5,632.1 C578.1,632.6 592.3,635.2 600.7,635.1 C609.1,634.9 620.0,632.0 623.9,631.4 M574.5,634.7 C579.2,635.8 594.0,640.6 602.7,641.4 C611.5,642.1 622.9,639.5 627.0,639.1 M575.5,637.3 C580.4,638.8 595.7,644.9 604.8,646.5 C613.8,648.1 625.8,646.8 630.0,646.9 M576.5,639.9 C581.5,641.7 597.3,648.1 606.8,650.5 C616.2,653.0 628.7,653.9 633.1,654.6 M577.4,642.5 C582.6,644.5 599.0,651.3 608.8,654.6 C618.6,657.9 631.6,661.1 636.2,662.4" stroke="#697a30" stroke-width="1.7" opacity="0.75"/>
<path d="M851.2,628.2 C845.7,627.7 828.5,627.2 818.1,625.7 C807.7,624.1 793.9,620.0 789.0,618.8 M849.9,630.1 C844.5,630.4 827.6,632.3 817.5,631.8 C807.3,631.3 793.7,627.7 789.0,626.9 M848.6,632.0 C843.3,633.0 826.8,637.4 816.8,637.9 C806.9,638.4 793.6,635.5 789.0,635.0 M847.4,634.0 C842.2,635.5 825.9,641.4 816.2,642.9 C806.5,644.4 793.5,643.0 789.0,643.0 M846.1,635.9 C841.0,637.7 825.0,644.3 815.5,646.8 C806.0,649.3 793.4,650.4 789.0,651.1 M844.8,637.8 C839.8,640.0 824.2,647.1 814.9,650.7 C805.6,654.2 793.3,657.7 789.0,659.2" stroke="#697a30" stroke-width="1.7" opacity="0.75"/>
<path d="M558.0,617.0 C562.5,616.8 577.2,616.8 585.0,616.0 C592.8,615.2 599.7,613.7 605.0,612.5 C610.3,611.3 615.0,609.6 617.0,609.0" stroke="#dc7867" stroke-width="9.5" stroke-linecap="round"/><path d="M558.0,617.0 C562.5,616.8 577.2,616.8 585.0,616.0 C592.8,615.2 599.7,613.7 605.0,612.5 C610.3,611.3 615.0,609.6 617.0,609.0" stroke="#f08c78" stroke-width="7.6" stroke-linecap="round" transform="translate(-0.2,-0.95)"/><path d="M558.0,617.0 C562.5,616.8 577.2,616.8 585.0,616.0 C592.8,615.2 599.7,613.7 605.0,612.5 C610.3,611.3 615.0,609.6 617.0,609.0" stroke="#f7a695" stroke-width="2.9" stroke-linecap="round" transform="translate(-0.3,-1.90)" opacity="0.7"/>
<path d="M793.0,603.5 C797.1,604.2 810.4,607.0 817.6,607.8 C824.8,608.6 831.4,608.5 836.0,608.3 C840.6,608.1 843.5,606.8 845.0,606.5" stroke="#dc7867" stroke-width="8.8" stroke-linecap="round"/><path d="M793.0,603.5 C797.1,604.2 810.4,607.0 817.6,607.8 C824.8,608.6 831.4,608.5 836.0,608.3 C840.6,608.1 843.5,606.8 845.0,606.5" stroke="#f08c78" stroke-width="7.0" stroke-linecap="round" transform="translate(-0.2,-0.88)"/><path d="M793.0,603.5 C797.1,604.2 810.4,607.0 817.6,607.8 C824.8,608.6 831.4,608.5 836.0,608.3 C840.6,608.1 843.5,606.8 845.0,606.5" stroke="#f7a695" stroke-width="2.6" stroke-linecap="round" transform="translate(-0.3,-1.76)" opacity="0.7"/>
<path d="M641.0,673.0 C641.8,671.8 644.3,670.7 646.0,666.0 C647.7,661.3 648.5,651.7 651.0,645.0 C653.5,638.4 659.3,629.2 661.0,626.0 M641.0,673.0 C641.8,671.9 644.3,670.7 646.0,666.6 C647.7,662.4 648.6,653.8 651.4,648.2 C654.3,642.6 661.1,635.5 663.0,633.0 M641.0,673.0 C641.8,672.0 644.2,670.7 646.0,667.1 C647.8,663.5 648.8,655.9 651.9,651.4 C655.0,646.9 662.4,641.9 664.5,640.0 M641.0,673.0 C641.8,672.1 644.1,670.7 646.0,667.7 C647.9,664.6 649.0,658.0 652.3,654.6 C655.7,651.2 663.7,648.3 666.0,647.0 M641.0,673.0 C641.8,672.2 644.0,670.8 646.0,668.2 C648.0,665.7 649.3,660.2 652.8,657.8 C656.3,655.4 664.6,654.6 667.0,654.0 M641.0,673.0 C641.8,672.3 644.0,670.8 646.0,668.8 C648.0,666.8 649.6,662.3 653.2,661.0 C656.9,659.7 665.5,661.0 668.0,661.0 M641.0,673.0 C641.8,672.4 643.9,670.8 646.0,669.3 C648.1,667.9 649.8,664.4 653.7,664.1 C657.5,663.9 666.4,667.4 669.0,668.0 M641.0,673.0 C641.8,672.5 643.8,670.8 646.0,669.9 C648.2,668.9 650.2,666.5 654.1,667.3 C658.0,668.2 666.9,673.7 669.5,675.0 M641.0,673.0 C641.8,672.6 643.7,671.0 646.0,670.4 C648.3,669.9 650.6,668.2 654.6,670.0 C658.5,671.7 667.0,679.2 669.5,681.0 M641.0,673.0 C641.8,672.7 643.7,671.2 646.0,671.0 C648.3,670.8 651.2,669.5 655.0,672.0 C658.8,674.5 666.2,683.7 668.5,686.0" stroke="#5ab9e6" stroke-width="3"/>
<path d="M779.0,668.0 C778.2,667.0 775.5,666.0 774.0,662.0 C772.5,658.0 773.2,649.7 770.0,643.7 C766.8,637.7 757.1,629.0 754.5,626.0 M779.0,668.0 C778.2,667.1 775.6,666.2 774.0,662.6 C772.4,658.9 772.8,651.4 769.7,646.3 C766.6,641.2 757.9,634.4 755.5,632.0 M779.0,668.0 C778.2,667.2 775.6,666.3 774.0,663.1 C772.4,659.9 772.2,653.2 769.3,649.0 C766.4,644.8 758.6,639.8 756.5,638.0 M779.0,668.0 C778.2,667.3 775.7,666.3 774.0,663.7 C772.3,661.0 771.8,655.3 769.0,652.1 C766.2,649.0 759.4,646.2 757.5,645.0 M779.0,668.0 C778.2,667.4 775.7,666.3 774.0,664.2 C772.3,662.1 771.2,657.4 768.7,655.3 C766.1,653.3 760.2,652.6 758.5,652.0 M779.0,668.0 C778.2,667.5 775.8,666.4 774.0,664.8 C772.2,663.2 771.0,659.5 768.3,658.5 C765.7,657.6 759.7,658.9 758.0,659.0 M779.0,668.0 C778.2,667.6 775.8,666.5 774.0,665.3 C772.2,664.2 770.8,661.2 768.0,661.1 C765.2,661.1 758.8,664.4 757.0,665.0 M779.0,668.0 C778.2,667.6 775.9,666.6 774.0,665.9 C772.1,665.2 770.7,662.9 767.7,663.8 C764.7,664.6 757.9,669.8 756.0,671.0 M779.0,668.0 C778.2,667.7 775.9,666.8 774.0,666.4 C772.1,666.1 770.2,664.3 767.3,665.9 C764.5,667.5 758.7,674.3 757.0,676.0 M779.0,668.0 C778.2,667.8 776.0,667.1 774.0,667.0 C772.0,666.9 769.4,665.2 767.0,667.4 C764.6,669.6 760.8,677.9 759.5,680.0" stroke="#5ab9e6" stroke-width="3"/>
<path d="M521.0,742.0 C522.2,738.7 525.7,729.5 528.0,722.0 C530.3,714.5 532.2,704.0 535.0,697.0 C537.8,690.0 540.8,684.5 545.0,680.0 C549.2,675.5 555.0,671.8 560.0,670.0 C565.0,668.2 570.0,668.3 575.0,669.0 C580.0,669.7 585.0,671.8 590.0,674.0 C595.0,676.2 600.8,680.0 605.0,682.0 C609.2,684.0 611.7,685.5 615.0,686.0 C618.3,686.5 621.7,686.2 625.0,685.0 C628.3,683.8 631.7,681.5 635.0,679.0 C638.3,676.5 642.2,672.5 645.0,670.0 C647.8,667.5 650.8,665.0 652.0,664.0" stroke="#49a3d3" stroke-width="13.2" stroke-linecap="butt"/><path d="M521.0,742.0 C522.2,738.7 525.7,729.5 528.0,722.0 C530.3,714.5 532.2,704.0 535.0,697.0 C537.8,690.0 540.8,684.5 545.0,680.0 C549.2,675.5 555.0,671.8 560.0,670.0 C565.0,668.2 570.0,668.3 575.0,669.0 C580.0,669.7 585.0,671.8 590.0,674.0 C595.0,676.2 600.8,680.0 605.0,682.0 C609.2,684.0 611.7,685.5 615.0,686.0 C618.3,686.5 621.7,686.2 625.0,685.0 C628.3,683.8 631.7,681.5 635.0,679.0 C638.3,676.5 642.2,672.5 645.0,670.0 C647.8,667.5 650.8,665.0 652.0,664.0" stroke="#5ab9e6" stroke-width="10.6" stroke-linecap="butt" transform="translate(-0.2,-1.32)"/><path d="M521.0,742.0 C522.2,738.7 525.7,729.5 528.0,722.0 C530.3,714.5 532.2,704.0 535.0,697.0 C537.8,690.0 540.8,684.5 545.0,680.0 C549.2,675.5 555.0,671.8 560.0,670.0 C565.0,668.2 570.0,668.3 575.0,669.0 C580.0,669.7 585.0,671.8 590.0,674.0 C595.0,676.2 600.8,680.0 605.0,682.0 C609.2,684.0 611.7,685.5 615.0,686.0 C618.3,686.5 621.7,686.2 625.0,685.0 C628.3,683.8 631.7,681.5 635.0,679.0 C638.3,676.5 642.2,672.5 645.0,670.0 C647.8,667.5 650.8,665.0 652.0,664.0" stroke="#7fcdf0" stroke-width="4.0" stroke-linecap="butt" transform="translate(-0.3,-2.64)" opacity="0.7"/>
<path d="M939.0,736.0 C936.2,731.7 927.2,717.7 922.0,710.0 C916.8,702.3 913.9,696.2 908.0,690.0 C902.1,683.8 893.0,678.0 886.8,673.0 C880.6,668.0 875.6,663.3 870.8,660.3 C866.0,657.3 863.0,655.4 858.0,655.0 C853.0,654.6 846.3,655.7 841.0,658.0 C835.7,660.3 831.2,665.8 826.0,668.8 C820.8,671.8 815.8,675.8 810.0,676.2 C804.2,676.6 796.8,673.3 791.0,671.0 C785.2,668.7 779.3,664.2 775.0,662.4 C770.7,660.6 766.7,660.4 765.0,660.0" stroke="#49a3d3" stroke-width="13.2" stroke-linecap="butt"/><path d="M939.0,736.0 C936.2,731.7 927.2,717.7 922.0,710.0 C916.8,702.3 913.9,696.2 908.0,690.0 C902.1,683.8 893.0,678.0 886.8,673.0 C880.6,668.0 875.6,663.3 870.8,660.3 C866.0,657.3 863.0,655.4 858.0,655.0 C853.0,654.6 846.3,655.7 841.0,658.0 C835.7,660.3 831.2,665.8 826.0,668.8 C820.8,671.8 815.8,675.8 810.0,676.2 C804.2,676.6 796.8,673.3 791.0,671.0 C785.2,668.7 779.3,664.2 775.0,662.4 C770.7,660.6 766.7,660.4 765.0,660.0" stroke="#5ab9e6" stroke-width="10.6" stroke-linecap="butt" transform="translate(-0.2,-1.32)"/><path d="M939.0,736.0 C936.2,731.7 927.2,717.7 922.0,710.0 C916.8,702.3 913.9,696.2 908.0,690.0 C902.1,683.8 893.0,678.0 886.8,673.0 C880.6,668.0 875.6,663.3 870.8,660.3 C866.0,657.3 863.0,655.4 858.0,655.0 C853.0,654.6 846.3,655.7 841.0,658.0 C835.7,660.3 831.2,665.8 826.0,668.8 C820.8,671.8 815.8,675.8 810.0,676.2 C804.2,676.6 796.8,673.3 791.0,671.0 C785.2,668.7 779.3,664.2 775.0,662.4 C770.7,660.6 766.7,660.4 765.0,660.0" stroke="#7fcdf0" stroke-width="4.0" stroke-linecap="butt" transform="translate(-0.3,-2.64)" opacity="0.7"/>
<path d="M503.6,525.0 C508.3,524.8 522.8,522.4 532.0,524.0 C541.2,525.6 550.7,528.9 559.0,534.5 C567.3,540.1 574.7,550.6 582.0,557.6 C589.3,564.6 599.5,573.4 603.0,576.5" stroke="#b284e6" stroke-width="7.8" stroke-linecap="round"/><path d="M503.6,525.0 C508.3,524.8 522.8,522.4 532.0,524.0 C541.2,525.6 550.7,528.9 559.0,534.5 C567.3,540.1 574.7,550.6 582.0,557.6 C589.3,564.6 599.5,573.4 603.0,576.5" stroke="#c99af6" stroke-width="6.2" stroke-linecap="round" transform="translate(-0.2,-0.78)"/><path d="M503.6,525.0 C508.3,524.8 522.8,522.4 532.0,524.0 C541.2,525.6 550.7,528.9 559.0,534.5 C567.3,540.1 574.7,550.6 582.0,557.6 C589.3,564.6 599.5,573.4 603.0,576.5" stroke="#dcb8fa" stroke-width="2.3" stroke-linecap="round" transform="translate(-0.3,-1.56)" opacity="0.7"/>
<path d="M910.5,527.0 C904.9,526.7 886.1,524.2 877.0,525.0 C867.9,525.8 863.0,528.0 856.0,532.0 C849.0,536.0 842.0,543.0 835.0,549.0 C828.0,555.0 820.0,563.1 814.0,568.0 C808.0,572.9 801.5,576.8 799.0,578.5" stroke="#b284e6" stroke-width="7.8" stroke-linecap="round"/><path d="M910.5,527.0 C904.9,526.7 886.1,524.2 877.0,525.0 C867.9,525.8 863.0,528.0 856.0,532.0 C849.0,536.0 842.0,543.0 835.0,549.0 C828.0,555.0 820.0,563.1 814.0,568.0 C808.0,572.9 801.5,576.8 799.0,578.5" stroke="#c99af6" stroke-width="6.2" stroke-linecap="round" transform="translate(-0.2,-0.78)"/><path d="M910.5,527.0 C904.9,526.7 886.1,524.2 877.0,525.0 C867.9,525.8 863.0,528.0 856.0,532.0 C849.0,536.0 842.0,543.0 835.0,549.0 C828.0,555.0 820.0,563.1 814.0,568.0 C808.0,572.9 801.5,576.8 799.0,578.5" stroke="#dcb8fa" stroke-width="2.3" stroke-linecap="round" transform="translate(-0.3,-1.56)" opacity="0.7"/>
<circle cx="638" cy="611" r="6.7" fill="#d877b6"/><circle cx="637.8" cy="610" r="5.4" fill="#ee8dcc"/>
<path d="M548.8,605.8 C552.0,604.5 561.5,599.9 568.0,598.0 C574.5,596.1 580.0,594.0 587.6,594.3 C595.2,594.5 605.5,596.7 613.9,599.5 C622.3,602.3 634.0,609.1 638.0,611.0" stroke="#d877b6" stroke-width="13.5" stroke-linecap="butt"/><path d="M548.8,605.8 C552.0,604.5 561.5,599.9 568.0,598.0 C574.5,596.1 580.0,594.0 587.6,594.3 C595.2,594.5 605.5,596.7 613.9,599.5 C622.3,602.3 634.0,609.1 638.0,611.0" stroke="#ee8dcc" stroke-width="10.8" stroke-linecap="butt" transform="translate(-0.2,-1.35)"/><path d="M548.8,605.8 C552.0,604.5 561.5,599.9 568.0,598.0 C574.5,596.1 580.0,594.0 587.6,594.3 C595.2,594.5 605.5,596.7 613.9,599.5 C622.3,602.3 634.0,609.1 638.0,611.0" stroke="#f6aede" stroke-width="4.0" stroke-linecap="butt" transform="translate(-0.3,-2.70)" opacity="0.7"/>
<circle cx="777.5" cy="600.4" r="7.6" fill="#d877b6"/><circle cx="777.3" cy="599.2" r="6.2" fill="#ee8dcc"/>
<path d="M870.6,568.0 C866.4,569.0 854.9,571.2 845.5,574.0 C836.1,576.8 822.8,581.8 814.0,585.0 C805.2,588.2 799.2,590.4 793.0,593.0 C786.8,595.6 779.7,599.3 777.0,600.6" stroke="#d877b6" stroke-width="15.5" stroke-linecap="butt"/><path d="M870.6,568.0 C866.4,569.0 854.9,571.2 845.5,574.0 C836.1,576.8 822.8,581.8 814.0,585.0 C805.2,588.2 799.2,590.4 793.0,593.0 C786.8,595.6 779.7,599.3 777.0,600.6" stroke="#ee8dcc" stroke-width="12.4" stroke-linecap="butt" transform="translate(-0.2,-1.55)"/><path d="M870.6,568.0 C866.4,569.0 854.9,571.2 845.5,574.0 C836.1,576.8 822.8,581.8 814.0,585.0 C805.2,588.2 799.2,590.4 793.0,593.0 C786.8,595.6 779.7,599.3 777.0,600.6" stroke="#f6aede" stroke-width="4.6" stroke-linecap="butt" transform="translate(-0.3,-3.10)" opacity="0.7"/>
<path d="M624.0,544.0 C625.0,546.3 627.2,552.6 630.0,558.0 C632.8,563.4 636.7,569.8 641.0,576.5 C645.3,583.2 651.1,591.4 656.0,598.0 C660.9,604.6 668.1,613.0 670.5,616.0" stroke="#e4921c" stroke-width="6.6" stroke-linecap="round"/><path d="M624.0,544.0 C625.0,546.3 627.2,552.6 630.0,558.0 C632.8,563.4 636.7,569.8 641.0,576.5 C645.3,583.2 651.1,591.4 656.0,598.0 C660.9,604.6 668.1,613.0 670.5,616.0" stroke="#f7a62c" stroke-width="5.6" stroke-linecap="round" transform="translate(-0.2,-0.66)"/><path d="M624.0,544.0 C625.0,546.3 627.2,552.6 630.0,558.0 C632.8,563.4 636.7,569.8 641.0,576.5 C645.3,583.2 651.1,591.4 656.0,598.0 C660.9,604.6 668.1,613.0 670.5,616.0" stroke="#fbbd55" stroke-width="2.0" stroke-linecap="round" transform="translate(-0.3,-1.32)" opacity="0.7"/>
<path d="M796.0,541.0 C794.2,544.2 789.0,553.5 785.0,560.0 C781.0,566.5 776.5,573.7 772.0,580.0 C767.5,586.3 762.5,592.8 758.0,598.0 C753.5,603.2 746.9,608.8 744.7,611.0" stroke="#e4921c" stroke-width="6.6" stroke-linecap="round"/><path d="M796.0,541.0 C794.2,544.2 789.0,553.5 785.0,560.0 C781.0,566.5 776.5,573.7 772.0,580.0 C767.5,586.3 762.5,592.8 758.0,598.0 C753.5,603.2 746.9,608.8 744.7,611.0" stroke="#f7a62c" stroke-width="5.6" stroke-linecap="round" transform="translate(-0.2,-0.66)"/><path d="M796.0,541.0 C794.2,544.2 789.0,553.5 785.0,560.0 C781.0,566.5 776.5,573.7 772.0,580.0 C767.5,586.3 762.5,592.8 758.0,598.0 C753.5,603.2 746.9,608.8 744.7,611.0" stroke="#fbbd55" stroke-width="2.0" stroke-linecap="round" transform="translate(-0.3,-1.32)" opacity="0.7"/>

  <!-- trigeminal (teal) -->
  <g id="tri"><defs>
    <linearGradient id="tealL" gradientUnits="userSpaceOnUse" x1="538" y1="474" x2="533" y2="492"><stop offset="0" stop-color="#86cfca"/><stop offset="0.45" stop-color="#65bab4"/><stop offset="1" stop-color="#46968f"/></linearGradient>
    <linearGradient id="tealR" gradientUnits="userSpaceOnUse" x1="892" y1="475" x2="896" y2="493"><stop offset="0" stop-color="#86cfca"/><stop offset="0.45" stop-color="#65bab4"/><stop offset="1" stop-color="#46968f"/></linearGradient>
  </defs>
  <path d="M514.5,468.2 L561,481 C563.5,486 563,494 560,498.5 L511,486.5 C508.5,485 507.5,480 508.5,475 C509.5,471 511.5,468.5 514.5,468.2 Z" fill="url(#tealL)"/>
  <path d="M514.5,468.2 C511.5,468.5 509.5,471 508.5,475 C507.5,480 508.5,485 511,486.5 C514,485 515.5,481 516,476.5 C516.3,472.5 516,469.5 514.5,468.2 Z" fill="#7cc9c4"/>
  <path d="M869,482.5 L917,468.5 C920.5,469 922.5,473 922.8,478 C923,482.5 921.5,485.5 919.5,486.5 L870.5,498.8 C866.5,497.5 865,493 865.2,489 C865.5,485.5 867,483.2 869,482.5 Z" fill="url(#tealR)"/>
  <path d="M917,468.5 C920.5,469 922.5,473 922.8,478 C923,482.5 921.5,485.5 919.5,486.5 C917.5,484.5 916.3,480.5 916.2,476.5 C916.1,473 916.3,470 917,468.5 Z" fill="#7cc9c4"/></g>
<path d="M644.0,357.2 C647.0,359.0 656.3,365.1 662.0,368.0 C667.7,370.9 673.3,374.8 678.0,374.8 C682.7,374.8 684.7,373.5 690.0,368.0 C695.3,362.5 706.7,346.3 710.0,342.0" stroke="#1f9a55" stroke-width="5.4" stroke-linecap="round"/><path d="M644.0,357.2 C647.0,359.0 656.3,365.1 662.0,368.0 C667.7,370.9 673.3,374.8 678.0,374.8 C682.7,374.8 684.7,373.5 690.0,368.0 C695.3,362.5 706.7,346.3 710.0,342.0" stroke="#2fc071" stroke-width="4.3" stroke-linecap="round" transform="translate(-0.2,-0.54)"/><path d="M644.0,357.2 C647.0,359.0 656.3,365.1 662.0,368.0 C667.7,370.9 673.3,374.8 678.0,374.8 C682.7,374.8 684.7,373.5 690.0,368.0 C695.3,362.5 706.7,346.3 710.0,342.0" stroke="#5ad890" stroke-width="1.6" stroke-linecap="round" transform="translate(-0.3,-1.08)" opacity="0.7"/>
<path d="M724.0,342.0 C727.0,345.3 735.0,356.5 742.0,362.0 C749.0,367.5 758.0,373.3 766.0,374.8 C774.0,376.3 781.5,373.5 790.0,371.0 C798.5,368.5 812.7,361.8 817.2,360.0" stroke="#1f9a55" stroke-width="5.4" stroke-linecap="round"/><path d="M724.0,342.0 C727.0,345.3 735.0,356.5 742.0,362.0 C749.0,367.5 758.0,373.3 766.0,374.8 C774.0,376.3 781.5,373.5 790.0,371.0 C798.5,368.5 812.7,361.8 817.2,360.0" stroke="#2fc071" stroke-width="4.3" stroke-linecap="round" transform="translate(-0.2,-0.54)"/><path d="M724.0,342.0 C727.0,345.3 735.0,356.5 742.0,362.0 C749.0,367.5 758.0,373.3 766.0,374.8 C774.0,376.3 781.5,373.5 790.0,371.0 C798.5,368.5 812.7,361.8 817.2,360.0" stroke="#5ad890" stroke-width="1.6" stroke-linecap="round" transform="translate(-0.3,-1.08)" opacity="0.7"/>
<path d="M620.0,326.0 C617.2,328.0 607.7,333.2 603.0,338.0 C598.3,342.8 594.2,350.0 592.0,355.0 C589.8,360.0 589.8,363.5 590.0,368.0 C590.2,372.5 592.9,379.7 593.5,382.0" stroke="#456fd6" stroke-width="5.4" stroke-linecap="round"/><path d="M620.0,326.0 C617.2,328.0 607.7,333.2 603.0,338.0 C598.3,342.8 594.2,350.0 592.0,355.0 C589.8,360.0 589.8,363.5 590.0,368.0 C590.2,372.5 592.9,379.7 593.5,382.0" stroke="#5f8aee" stroke-width="4.3" stroke-linecap="round" transform="translate(-0.2,-0.54)"/><path d="M620.0,326.0 C617.2,328.0 607.7,333.2 603.0,338.0 C598.3,342.8 594.2,350.0 592.0,355.0 C589.8,360.0 589.8,363.5 590.0,368.0 C590.2,372.5 592.9,379.7 593.5,382.0" stroke="#8aabf6" stroke-width="1.6" stroke-linecap="round" transform="translate(-0.3,-1.08)" opacity="0.7"/>
<path d="M842.8,331.0 C843.8,333.0 847.5,338.3 849.0,343.0 C850.5,347.7 852.0,353.8 851.5,359.0 C851.0,364.2 848.6,369.6 846.0,374.0 C843.4,378.4 837.7,383.6 836.0,385.5" stroke="#456fd6" stroke-width="5.4" stroke-linecap="round"/><path d="M842.8,331.0 C843.8,333.0 847.5,338.3 849.0,343.0 C850.5,347.7 852.0,353.8 851.5,359.0 C851.0,364.2 848.6,369.6 846.0,374.0 C843.4,378.4 837.7,383.6 836.0,385.5" stroke="#5f8aee" stroke-width="4.3" stroke-linecap="round" transform="translate(-0.2,-0.54)"/><path d="M842.8,331.0 C843.8,333.0 847.5,338.3 849.0,343.0 C850.5,347.7 852.0,353.8 851.5,359.0 C851.0,364.2 848.6,369.6 846.0,374.0 C843.4,378.4 837.7,383.6 836.0,385.5" stroke="#8aabf6" stroke-width="1.6" stroke-linecap="round" transform="translate(-0.3,-1.08)" opacity="0.7"/>

</g>

<!-- LABEL LINES -->
<g class="ln">
  <polyline points="231,248.8 391,248.8 645,357"/>
  <polyline points="219,384.6 424,384.6 512,472"/>
  <polyline points="217,525.2 413.5,525.2 641,579.6"/>
  <polyline points="239,660 426,660 556,617.6"/>
  <polyline points="241,822 439,822 524,737"/>
  <polyline points="1120.6,246.4 998,246.4 852,360"/>
  <polyline points="1118.4,385 1072,385 910.5,525.6"/>
  <polyline points="1118,523.4 1012,523.4 871.7,568"/>
  <polyline points="1119.6,688 1050,688 881,637.3"/>
  <polyline points="1118.8,831.4 1074.7,831.4 911,667"/>
</g>

<!-- TEXT -->
<text x="529" y="74" font-size="37.7" font-weight="bold" fill="#ffffff" textLength="368.0" lengthAdjust="spacing">Cranial nerve exits</text>

<g class="lbl">
  <g fill="#41c77c" stroke="#41c77c">
    <text x="25.6" y="255.3" textLength="203.0" lengthAdjust="spacing">Oculomotor nerve</text>
    <text x="27.8" y="281.7" textLength="77.3" lengthAdjust="spacing">(CN III)</text>
  </g>
  <g fill="#7fc8c5" stroke="#7fc8c5">
    <text x="28.6" y="390" textLength="188.4" lengthAdjust="spacing">Trigeminal nerve</text>
    <text x="29.7" y="416.7" textLength="76.0" lengthAdjust="spacing">(CN V)</text>
  </g>
  <g fill="#f5a43a" stroke="#f5a43a">
    <text x="31.8" y="530" textLength="182.5" lengthAdjust="spacing">Abducens nerve</text>
    <text x="32.8" y="557.4" textLength="81.3" lengthAdjust="spacing">(CN VI)</text>
  </g>
  <g fill="#f29488" stroke="#f29488">
    <text x="30.6" y="664.8" textLength="204.8" lengthAdjust="spacing">Glossopharyngeal</text>
    <text x="31.3" y="691.2" textLength="150.8" lengthAdjust="spacing">nerve (CN IX)</text>
  </g>
  <g fill="#62b8ee" stroke="#62b8ee">
    <text x="32.3" y="824.9" textLength="206.9" lengthAdjust="spacing">Hypoglossal nerve</text>
    <text x="33" y="850.8" textLength="87.2" lengthAdjust="spacing">(CN XII)</text>
  </g>
  <g fill="#86a8f7" stroke="#86a8f7">
    <text x="1121.6" y="255.4" textLength="174.9" lengthAdjust="spacing">Trochlear nerve</text>
    <text x="1122.4" y="282" textLength="82.1" lengthAdjust="spacing">(CN IV)</text>
  </g>
  <g fill="#d4a0f5" stroke="#d4a0f5">
    <text x="1121.6" y="393" textLength="231.5" lengthAdjust="spacing">Facial nerve (CN VII)</text>
  </g>
  <g fill="#f48fd0" stroke="#f48fd0">
    <text x="1121" y="531.6" textLength="202.5" lengthAdjust="spacing">Vestibulocochlear</text>
    <text x="1121.6" y="557.6" textLength="163.9" lengthAdjust="spacing">nerve (CN VIII)</text>
  </g>
  <g fill="#b5c86e" stroke="#b5c86e">
    <text x="1121.6" y="694" textLength="224.3" lengthAdjust="spacing">Vagus nerve (CN X)</text>
  </g>
  <g fill="#e3c066" stroke="#e3c066">
    <text x="1121" y="836.5" textLength="184.5" lengthAdjust="spacing">Accessory nerve</text>
    <text x="1122.6" y="863.4" textLength="80.5" lengthAdjust="spacing">(CN XI)</text>
  </g>
</g>

<text x="91.4" y="966" font-size="21.4" fill="#ffffff" textLength="140.5" lengthAdjust="spacing">Anatomy.app</text>
<text x="637.7" y="968" font-size="21.4" fill="#ffffff" stroke="#ffffff" stroke-width="0.45" textLength="149.8" lengthAdjust="spacing">Anterior view</text>
<text transform="translate(1398,797) rotate(-90)" font-size="14.5" fill="#a0a0a0" textLength="543.1" lengthAdjust="spacing">Copyrights @ 2022 Anatomy Next, Inc. All rights reserved www.anatomy.app</text>

<!-- LOGO -->
<g id="logo" fill="none" stroke="#ffffff" stroke-width="2.2" stroke-linejoin="miter">
  <g id="lh"><polygon points="43.9,935.8 48.8,938.9 48.8,978.2 43.9,981.3 32.7,974.8 32.7,968.3 26.8,964.6 26.8,952.2 32.7,948.8 32.7,942.6"/><polyline points="39.5,939.5 43.9,942.1"/><polyline points="32.7,948.8 38.6,945.4 43.9,948.5"/><polyline points="38.6,951.3 43.9,954.7 48.8,951.9"/><polyline points="34.9,950.6 34.9,960.2 31.8,962.1"/><polyline points="27.8,961.0 31.8,958.5"/><polyline points="26.8,964.6 38.6,971.4 43.9,968.3"/><polyline points="38.6,964.6 43.9,961.2 48.8,964.3"/><polyline points="39.2,977.0 43.9,974.2"/></g><g transform="translate(102.64,0) scale(-1,1)"><polygon points="43.9,935.8 48.8,938.9 48.8,978.2 43.9,981.3 32.7,974.8 32.7,968.3 26.8,964.6 26.8,952.2 32.7,948.8 32.7,942.6"/><polyline points="39.5,939.5 43.9,942.1"/><polyline points="32.7,948.8 38.6,945.4 43.9,948.5"/><polyline points="38.6,951.3 43.9,954.7 48.8,951.9"/><polyline points="34.9,950.6 34.9,960.2 31.8,962.1"/><polyline points="27.8,961.0 31.8,958.5"/><polyline points="26.8,964.6 38.6,971.4 43.9,968.3"/><polyline points="38.6,964.6 43.9,961.2 48.8,964.3"/><polyline points="39.2,977.0 43.9,974.2"/></g>
</g>
</svg>
</body>
</html>
